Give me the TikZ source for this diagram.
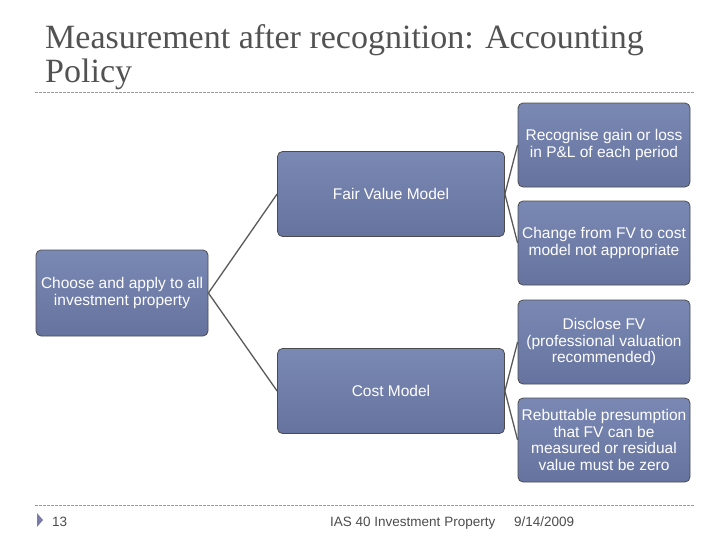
\documentclass[tikz,border=0pt]{standalone}
\usepackage{fontspec}
\setmainfont{Liberation Sans}
\newfontfamily\titlefont{Liberation Serif}
\begin{document}
\begin{tikzpicture}[x=1pt,y=-1pt,
 box/.style={draw=black!70,line width=0.8pt,rounded corners=5pt,top color=boxtop,bottom color=boxbot,
   text=white,font=\fontsize{15.5}{16.5}\selectfont,align=center,inner sep=1pt,minimum width=#1,anchor=center},
 box/.default=172pt,
 conn/.style={draw=black!65,line width=1.3pt}]
\definecolor{boxtop}{HTML}{7A88B4}
\definecolor{boxbot}{HTML}{66739F}
\useasboundingbox (0,0) rectangle (728,546);
\node[anchor=base west,font=\titlefont\fontsize{34}{38}\selectfont,text=black!68,inner sep=0pt] (t1) at (45,48) {Measurement after recognition: Accounting};
\node[anchor=base west,font=\titlefont\fontsize{34}{38}\selectfont,text=black!68,inner sep=0pt] (t2) at (45,82) {Policy};
\draw[black!40,line width=0.5pt,dash pattern=on 2.5pt off 1.5pt] (35,92) -- (695,92);
\draw[black!40,line width=0.5pt,dash pattern=on 2.5pt off 1.5pt] (35,505) -- (695,505);
\node[box,minimum height=86pt] (root) at (122,293) {Choose and apply to all\\investment property};
\node[box=227pt,minimum height=85pt] (fv) at (391,194) {Fair Value Model};
\node[box=227pt,minimum height=85pt] (cm) at (391,391) {Cost Model};
\node[box,minimum height=84pt] (r1) at (604,145) {Recognise gain or loss\\in P\&L of each period};
\node[box,minimum height=84pt] (r2) at (604,243) {Change from FV to cost\\model not appropriate};
\node[box,minimum height=84pt] (r3) at (604,342) {Disclose FV\\(professional valuation\\recommended)};
\node[box,minimum height=84pt] (r4) at (604,440) {Rebuttable presumption\\that FV can be\\measured or residual\\value must be zero};
\draw[conn] (root.east) -- (fv.west);
\draw[conn] (root.east) -- (cm.west);
\draw[conn] (fv.east) -- (r1.west);
\draw[conn] (fv.east) -- (r2.west);
\draw[conn] (cm.east) -- (r3.west);
\draw[conn] (cm.east) -- (r4.west);
\fill[color=black!20!blue!30!gray!80] (37,513) -- (43,520) -- (37,527) -- cycle;
\node[anchor=base west,font=\fontsize{13.5}{15}\selectfont,text=black!70,inner sep=0pt] (pg) at (52,526) {13};
\node[anchor=base west,font=\fontsize{13.5}{15}\selectfont,text=black!70,inner sep=0pt] (ft) at (330,526) {IAS 40 Investment Property};
\node[anchor=base west,font=\fontsize{13.5}{15}\selectfont,text=black!70,inner sep=0pt] (dt) at (514,526) {9/14/2009};
\end{tikzpicture}
\end{document}
